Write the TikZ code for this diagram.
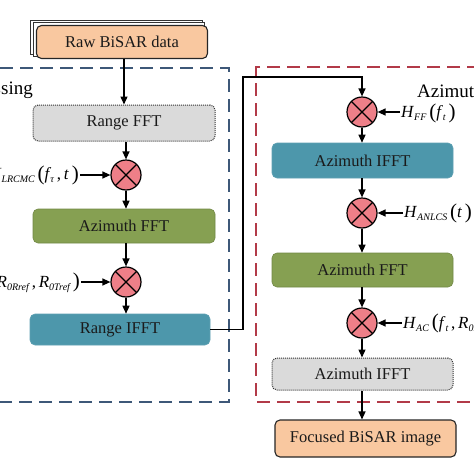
\documentclass[tikz,border=0pt]{standalone}
\usepackage{fontspec}
\setmainfont{Liberation Serif}
\usetikzlibrary{arrows.meta}
\definecolor{cOrange}{HTML}{F9C8A0}
\definecolor{cGray}{HTML}{DADADA}
\definecolor{cPink}{HTML}{EE7F88}
\definecolor{cGreen}{HTML}{86A052}
\definecolor{cTeal}{HTML}{4D97AB}
\definecolor{cBlueDash}{HTML}{3E5878}
\definecolor{cRedDash}{HTML}{B23A48}
\definecolor{cText}{HTML}{1A1A1A}
\newcommand{\sbs}[1]{\raisebox{-0.45ex}{\fontsize{10}{11}\selectfont\itshape #1}}
\newcommand{\bpar}[1]{\raisebox{-0.6pt}{\fontsize{21}{21}\selectfont #1}}
\tikzset{
  box/.style={rounded corners=5pt, minimum height=33pt, inner sep=0pt, text=cText,
    font=\fontsize{16.5}{19}\selectfont},
  grayfft/.style={box, fill=cGray, draw=black!80, densely dotted, line width=1pt},
  greenfft/.style={box, fill=cGreen, draw=cGreen!85!black, line width=0.6pt},
  tealfft/.style={box, fill=cTeal, draw=cTeal!90!white, line width=0.6pt},
  orangebox/.style={box, fill=cOrange, draw=black!85, line width=1.1pt},
  mult/.style={circle, fill=cPink, draw=black, line width=1.2pt, minimum size=30pt, inner sep=0pt,
    path picture={\draw[line width=1.2pt] (path picture bounding box.north west) -- (path picture bounding box.south east)
      (path picture bounding box.north east) -- (path picture bounding box.south west);}},
  arr/.style={-{Triangle[length=8pt,width=7pt]}, line width=1.3pt},
  lbl/.style={font=\fontsize{17}{19}\selectfont, inner sep=1pt},
  title/.style={font=\fontsize{19}{22}\selectfont, inner sep=0pt},
}
\begin{document}
\begin{tikzpicture}[x=1pt,y=-1pt]
\useasboundingbox (0,0) rectangle (474,474);
\clip (0,0) rectangle (474,474);
\fill[white] (0,0) rectangle (474,474);
% dashed group frames
\draw[cBlueDash, line width=1.8pt, dash pattern=on 13pt off 7pt] (-60,68) -- (229,68) -- (229,402) -- (-60,402);
\draw[cRedDash, line width=1.8pt, dash pattern=on 13pt off 7pt] (540,67) -- (256,67) -- (256,402) -- (540,402);
\node[title, anchor=base east] (t1) at (33,94) {Range Processing};
\node[title, anchor=base west] (t2) at (417,97) {Azimuth Processing};
% raw data stack
\draw[black!80, line width=0.8pt, fill=white] (30,20) rectangle (202,54);
\draw[black!80, line width=0.8pt, fill=white] (33,22.5) rectangle (204.5,56);
\node[orangebox, minimum width=171pt] (raw) at (122,42) {Raw BiSAR data};
% left column
\node[grayfft, minimum width=182pt, minimum height=36pt] (rfft) at (124,123) {Range FFT};
\node[mult] (m1) at (126,175) {};
\node[greenfft, minimum width=182pt, minimum height=34pt] (afft1) at (124,226) {Azimuth FFT};
\node[mult] (m2) at (126,282) {};
\node[tealfft, minimum width=180pt, minimum height=31pt] (rifft) at (120,329.5) {Range IFFT};
% right column
\node[mult] (m3) at (362,112) {};
\node[tealfft, minimum width=181pt, minimum height=35pt] (aifft1) at (362.5,160.5) {Azimuth IFFT};
\node[mult] (m4) at (362,213) {};
\node[greenfft, minimum width=181pt, minimum height=34pt] (afft2) at (362.5,270) {Azimuth FFT};
\node[mult] (m5) at (362,323) {};
\node[grayfft, minimum width=181pt, minimum height=32pt] (aifft2) at (362.5,374) {Azimuth IFFT};
\node[orangebox, minimum width=181pt, minimum height=37pt] (foc) at (365.5,438.5) {Focused BiSAR image};
% labels
\node[lbl, anchor=east] (l1) at (80,175) {\textit{H}\sbs{LRCMC}\,\bpar{(}\textit{f}\sbs{\kern-1pt τ}\,,\,\textit{t}\,\bpar{)}};
\node[lbl, anchor=east] (l2) at (81,283) {\textit{H}\sbs{RC}\,\bpar{(}\textit{f}\sbs{τ}\,,\,\textit{R}\sbs{0Rref}\,,\,\textit{R}\sbs{0Tref}\,\bpar{)}};
\node[lbl, anchor=west] (l3) at (400,113) {\textit{H}\sbs{FF}\,\bpar{(}\textit{f}\sbs{t}\,\bpar{)}};
\node[lbl, anchor=west] (l4) at (403,213) {\textit{H}\sbs{ANLCS}\,\bpar{(}\textit{t}\,\bpar{)}};
\node[lbl, anchor=west] (l5) at (402,324) {\textit{H}\sbs{AC}\,\bpar{(}\textit{f}\sbs{t}\,,\,\textit{R}\sbs{0Rref}\,\bpar{)}};
% connectors
\draw[arr] (raw.south -| rfft.north) -- (rfft.north);
\draw[arr] (rfft.south -| m1) -- (m1.north);
\draw[arr] (m1.south) -- (afft1.north -| m1);
\draw[arr] (afft1.south -| m2) -- (m2.north);
\draw[arr] (m2.south) -- (rifft.north -| m2);
\draw[arr] (l1.east) -- (m1.west);
\draw[arr] (l2.east |- m2) -- (m2.west);
\coordinate (bend) at (243,77);
\draw[arr, line width=1.2pt] (rifft.east) -| (bend) -| (m3.north);
\draw[arr] (l3.west |- m3) -- (m3.east);
\draw[arr] (m3.south) -- (aifft1.north -| m3);
\draw[arr] (aifft1.south -| m4) -- (m4.north);
\draw[arr] (l4.west |- m4) -- (m4.east);
\draw[arr] (m4.south) -- (afft2.north -| m4);
\draw[arr] (afft2.south -| m5) -- (m5.north);
\draw[arr] (l5.west |- m5) -- (m5.east);
\draw[arr] (m5.south) -- (aifft2.north -| m5);
\draw[arr] (aifft2.south -| m5) -- (foc.north -| m5);
\end{tikzpicture}
\end{document}
